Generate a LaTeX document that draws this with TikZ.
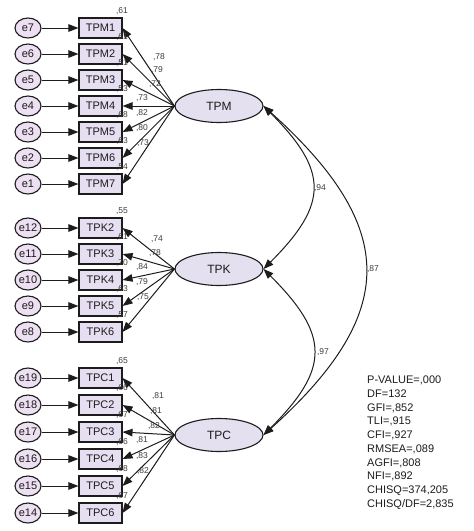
\documentclass[tikz,border=0pt]{standalone}
\usepackage{fontspec}
\setmainfont{Liberation Sans}
\usetikzlibrary{arrows.meta,shapes.geometric}
\definecolor{inkdark}{HTML}{1C1C1C}
\definecolor{valgray}{HTML}{3C3C3C}
\definecolor{boxfill}{HTML}{E6DEF1}
\definecolor{errfill}{HTML}{EDE0F2}
\definecolor{latfill}{HTML}{E4E0EF}
\tikzset{
  obs/.style={draw=inkdark, fill=boxfill, minimum width=43pt, minimum height=20pt,
    inner sep=0pt, line width=1.1pt, font=\fontsize{11}{12}\selectfont, text=inkdark},
  err/.style={ellipse, draw=inkdark, fill=errfill, minimum width=26pt,
    minimum height=20pt, inner sep=0pt, line width=1.1pt,
    font=\fontsize{11}{12}\selectfont, text=inkdark},
  lat/.style={ellipse, draw=inkdark, fill=latfill, minimum width=88pt,
    minimum height=33pt, inner sep=0pt, line width=1.1pt,
    font=\fontsize{12}{13}\selectfont, text=inkdark},
  arw/.style={-{Triangle[length=10pt,width=7.5pt]}, line width=1pt, draw=inkdark},
  cov/.style={{Triangle[length=10pt,width=7.5pt]}-{Triangle[length=10pt,width=7.5pt]},
    line width=1pt, draw=inkdark},
  val/.style={font=\fontsize{8.5}{9}\selectfont, text=valgray, inner sep=0pt},
  fitstat/.style={font=\fontsize{11}{13.7}\selectfont, text=inkdark, align=left,
    inner sep=0pt, anchor=north west},
}
\begin{document}
\begin{tikzpicture}[x=1pt,y=-1pt]
  \useasboundingbox (0,0) rectangle (474,531);
  % latent factors
  \node[lat] (TPM) at (219,106) {TPM};
  \node[lat] (TPK) at (219,269) {TPK};
  \node[lat] (TPC) at (219,435) {TPC};
  % indicators, error terms and squared multiple correlations
  \foreach \lv/\b/\e/\y/\r in {TPM/TPM1/e7/28/61, TPM/TPM2/e6/54/61,
      TPM/TPM3/e5/80/51, TPM/TPM4/e4/106/53, TPM/TPM5/e3/132/68,
      TPM/TPM6/e2/158/63, TPM/TPM7/e1/184/54,
      TPK/TPK2/e12/228/55, TPK/TPK3/e11/254/61, TPK/TPK4/e10/280/70,
      TPK/TPK5/e9/306/63, TPK/TPK6/e8/332/57,
      TPC/TPC1/e19/378/65, TPC/TPC2/e18/405/66, TPC/TPC3/e17/432/67,
      TPC/TPC4/e16/459/66, TPC/TPC5/e15/486/68, TPC/TPC6/e14/513/67} {
    \node[obs] (\b) at (100.5,\y) {\b};
    \node[err] (\e) at (28,\y) {\e};
    \node[val] at (122,\y-17) {,\r};
    \draw[arw] (\e) -- (\b);
    \draw[arw] (\lv.west) -- (\b.east);
  }
  % standardized loadings
  \foreach \x/\y/\v in {159/57/78, 157/70/79, 155/84/72, 142/98/73, 142/113/82,
      142/128/80, 143/143/73,
      157/239/74, 155/253/78, 142/267/84, 142/282/79, 143/297/75,
      158/396/81, 156/411/81, 154/426/82, 142/440/81, 142/456/83, 143/471/82}
    \node[val] at (\x,\y) {,\v};
  % factor correlations
  \draw[cov] (TPM.east) to[out=-45,in=45,looseness=1.45] (TPK.east);
  \draw[cov] (TPK.east) to[out=-45,in=45,looseness=1.45] (TPC.east);
  \draw[cov] (TPM.east) to[out=-42,in=42,looseness=1.42] (TPC.east);
  \node[val] at (320,188) {,94};
  \node[val] at (323,352) {,97};
  \node[val] at (373,269) {,87};
  % fit indices
  \node[fitstat] (fit) at (367,376) {P-VALUE=,000\\DF=132\\GFI=,852\\TLI=,915\\
    CFI=,927\\RMSEA=,089\\AGFI=,808\\NFI=,892\\CHISQ=374,205\\CHISQ/DF=2,835};
\end{tikzpicture}
\end{document}
